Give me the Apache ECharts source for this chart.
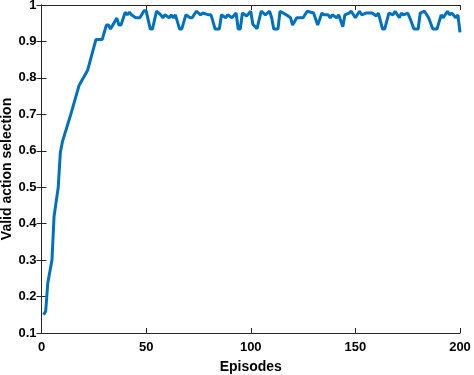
<!DOCTYPE html>
<html>
<head>
<meta charset="utf-8">
<script src="https://cdn.jsdelivr.net/npm/echarts@6/dist/echarts.min.js"></script>
<style>
html,body{margin:0;padding:0;background:#fff;}
#chart{width:474px;height:375px;}
</style>
</head>
<body>
<div id="chart"></div>
<script>
var episodes = [1,2,3,5,6,8,9,10,14,18,22,26,29,31,32,33,36,37,38,40,41,42,43,45,47,49,50,52,53,55,57,58,59,61,62,63,64,66,67,69,71,72,74,76,77,80,81,83,85,86,88,89,91,93,94,95,96,98,100,101,103,105,107,109,110,111,113,114,117,119,120,122,125,127,130,132,134,135,137,138,139,141,142,144,145,147,148,150,152,153,155,158,160,161,163,164,166,168,169,171,172,173,175,176,178,180,181,183,185,187,189,191,192,194,195,196,198,199,200];
var validRate = [0.15,0.16,0.237,0.30,0.42,0.50,0.595,0.625,0.70,0.78,0.82,0.905,0.905,0.945,0.945,0.934,0.964,0.945,0.945,0.98,0.973,0.98,0.973,0.965,0.965,0.984,0.984,0.934,0.934,0.983,0.973,0.965,0.973,0.965,0.973,0.965,0.973,0.934,0.934,0.973,0.965,0.965,0.983,0.973,0.978,0.973,0.973,0.934,0.934,0.973,0.965,0.973,0.965,0.978,0.934,0.934,0.978,0.97,0.983,0.947,0.935,0.983,0.973,0.983,0.965,0.934,0.934,0.983,0.973,0.965,0.945,0.965,0.965,0.983,0.978,0.945,0.978,0.973,0.973,0.965,0.973,0.965,0.973,0.94,0.973,0.978,0.983,0.965,0.983,0.973,0.978,0.978,0.97,0.978,0.934,0.934,0.978,0.973,0.983,0.965,0.978,0.973,0.978,0.965,0.934,0.934,0.978,0.983,0.965,0.934,0.934,0.973,0.965,0.983,0.973,0.978,0.965,0.973,0.925];
var xTicks = [0,50,100,150,200];
var yTicks = [0.1,0.2,0.3,0.4,0.5,0.6,0.7,0.8,0.9,1];
var xTitle = 'Episodes';
var yTitle = 'Valid action selection';

var seriesData = episodes.map(function(e,i){return [e, validRate[i]];});
var chart = echarts.init(document.getElementById('chart'), null, {renderer:'canvas'});
var font = 'Liberation Sans, Arial, sans-serif';
var axisLineStyle = {color:'#262626', width:1};
chart.setOption({
  animation:false,
  backgroundColor:'#fff',
  grid:{left:41.5, right:14, top:5, bottom:42, containLabel:false, outerBoundsMode:'none'},
  xAxis:[{
    type:'value', min:xTicks[0], max:xTicks[xTicks.length-1], interval:50, position:'bottom',
    axisLine:{show:true, lineStyle:axisLineStyle},
    axisTick:{show:true, inside:true, length:5, lineStyle:axisLineStyle},
    axisLabel:{color:'#000', fontFamily:font, fontWeight:'bold', fontSize:13, margin:8},
    splitLine:{show:false},
    name:xTitle, nameLocation:'middle', nameGap:27, nameMoveOverlap:false,
    nameTextStyle:{color:'#000', fontFamily:font, fontWeight:'bold', fontSize:14}
  },{
    type:'value', min:xTicks[0], max:xTicks[xTicks.length-1], interval:50, position:'top',
    axisLine:{show:true, lineStyle:axisLineStyle},
    axisTick:{show:true, inside:true, length:5, lineStyle:axisLineStyle},
    axisLabel:{show:false}, splitLine:{show:false}
  }],
  yAxis:[{
    type:'value', min:0.1, max:1, interval:0.1, position:'left',
    axisLine:{show:true, lineStyle:axisLineStyle},
    axisTick:{show:true, inside:true, length:5, lineStyle:axisLineStyle},
    axisLabel:{color:'#000', fontFamily:font, fontWeight:'bold', fontSize:13, margin:5,
      formatter:function(v){return String(Math.round(v*10)/10);}},
    splitLine:{show:false},
    name:yTitle, nameLocation:'middle', nameGap:27, nameRotate:90, nameMoveOverlap:false,
    nameTextStyle:{color:'#000', fontFamily:font, fontWeight:'bold', fontSize:14}
  },{
    type:'value', min:0.1, max:1, interval:0.1, position:'right',
    axisLine:{show:true, lineStyle:axisLineStyle},
    axisTick:{show:true, inside:true, length:5, lineStyle:axisLineStyle},
    axisLabel:{show:false}, splitLine:{show:false}
  }],
  series:[{
    type:'line', xAxisIndex:0, yAxisIndex:0, data:seriesData,
    showSymbol:false, symbol:'none',
    lineStyle:{color:'#0072BD', width:3},
    itemStyle:{color:'#0072BD'}
  }]
});
</script>
</body>
</html>
